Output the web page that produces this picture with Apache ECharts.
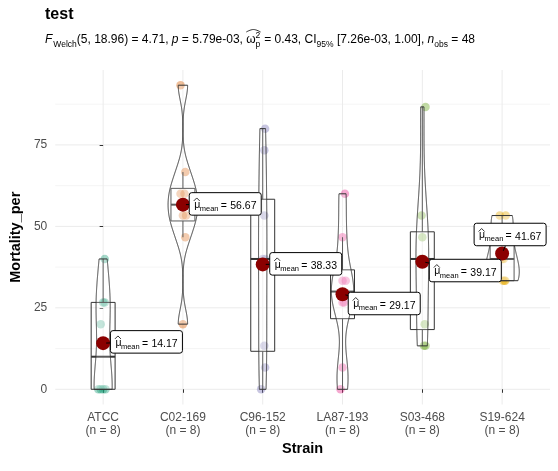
<!DOCTYPE html>
<html lang="en">
<head>
<meta charset="UTF-8">
<title>test</title>
<script src="https://cdn.jsdelivr.net/npm/echarts@6/dist/echarts.min.js"></script>
<style>html,body{margin:0;padding:0;background:#fff;}</style>
</head>
<body>
<div id="box" style="width:558px;height:471px;"></div>
<script>
// values (Mortality_per, 8 per strain)
var strains = ['ATCC', 'C02-169', 'C96-152', 'LA87-193', 'S03-468', 'S19-624'];
var atcc = [0, 0, 0, 0, 20, 26.67, 26.67, 40];
var c02 = [20, 46.67, 53.33, 53.33, 60, 60, 66.67, 93.33];
var c96 = [0, 6.67, 13.33, 40, 40, 53.33, 73.33, 80];
var la87 = [0, 6.67, 26.67, 26.67, 33.33, 33.33, 46.67, 60];
var s03 = [13.33, 13.33, 20, 40, 40, 46.67, 53.33, 86.67];
var s19 = [33.33, 33.33, 33.33, 40, 40, 46.67, 53.33, 53.33];
var groups = [atcc, c02, c96, la87, s03, s19];
var meanLabels = ['14.17', '56.67', '38.33', '29.17', '39.17', '41.67'];
var yTicks = [0, 25, 50, 75];
var yMinor = [12.5, 37.5, 62.5, 87.5];

// horizontal jitter of each point (category units), same order as the values
var jitter = [
    [-0.06, -0.03, 0.0, 0.03, -0.03, 0.02, 0.0, 0.02],
    [0.0, 0.03, 0.0, 0.04, -0.03, 0.02, 0.03, -0.03],
    [-0.02, 0.03, 0.02, 0.0, 0.03, 0.02, 0.02, 0.03],
    [-0.025, 0.0, 0.0, 0.02, 0.04, 0.0, 0.0, 0.03],
    [0.02, 0.04, 0.03, -0.02, 0.01, 0.0, -0.01, 0.04],
    [0.01, 0.03, 0.04, 0.0, 0.02, 0.0, -0.03, 0.045]
];
// label box offset from the mean point, px
var labelPos = [[7.3, -12.5], [6.3, -12], [7, -11.8], [5.7, -2], [7, -2.4], [-28, -30.3]];

var colors = ['#1B9E77', '#D95F02', '#7570B3', '#E7298A', '#66A61E', '#E6AB02'];
var FAM = '"Liberation Sans", Arial, sans-serif';
var VIOLIN_HALF = 0.215;
var BOX_HALF = 0.15;

function sorted(v) { return v.slice().sort(function (a, b) { return a - b; }); }
function quant(s, p) {
    var h = (s.length - 1) * p, lo = Math.floor(h), hi = Math.min(lo + 1, s.length - 1);
    return s[lo] + (h - lo) * (s[hi] - s[lo]);
}
function mean(v) { var t = 0; v.forEach(function (x) { t += x; }); return t / v.length; }
function sdev(v) {
    var m = mean(v), t = 0;
    v.forEach(function (x) { t += (x - m) * (x - m); });
    return Math.sqrt(t / (v.length - 1));
}

var means = groups.map(mean);
var boxStats = groups.map(function (v) {
    var s = sorted(v), q1 = quant(s, 0.25), q3 = quant(s, 0.75), iqr = q3 - q1;
    var inside = s.filter(function (x) { return x >= q1 - 1.5 * iqr && x <= q3 + 1.5 * iqr; });
    return {q1: q1, med: quant(s, 0.5), q3: q3, lo: inside[0], hi: inside[inside.length - 1]};
});
// gaussian kde, bw.nrd0, trimmed to data range
var dens = groups.map(function (v) {
    var s = sorted(v), n = v.length, iqr = quant(s, 0.75) - quant(s, 0.25);
    var bw = 0.9 * Math.min(sdev(v), iqr / 1.34) * Math.pow(n, -0.2);
    var a = s[0], b = s[n - 1], out = [];
    for (var k = 0; k < 512; k++) {
        var y = a + (b - a) * k / 511, d = 0;
        for (var j = 0; j < n; j++) { var z = (y - s[j]) / bw; d += Math.exp(-z * z / 2); }
        out.push([y, d / (n * bw * Math.sqrt(2 * Math.PI))]);
    }
    return out;
});
var dMax = Math.max.apply(null, dens.map(function (g) {
    return Math.max.apply(null, g.map(function (p) { return p[1]; }));
}));

var allVals = [].concat.apply([], groups);
var yLo = Math.min.apply(null, allVals), yHi = Math.max.apply(null, allVals);
var yPad = (yHi - yLo) * 0.05;
var xTicks = strains.map(function (s, i) { return i; });

// text helpers
var ctx = document.createElement('canvas').getContext('2d');
function textW(t, font) { ctx.font = font; return ctx.measureText(t).width; }
function txt(t, x, base, size, opts) {
    opts = opts || {};
    var font = (opts.italic ? 'italic ' : '') + (opts.bold ? 'bold ' : '') + size + 'px ' + FAM;
    return {type: 'text', x: x, y: base - 0.31 * size, z: 100,
        style: {text: t, font: font, fill: opts.fill || '#000', textVerticalAlign: 'middle', textAlign: 'left'}};
}

// title + subtitle
var graphics = [txt('test', 45, 20, 16, {bold: true})];
(function () {
    var S = 12, SS = 8.5, B = 43.5, x = 45;
    function put(t, kind) {
        var size = kind === 'sub' ? SS : S, base = kind === 'sub' ? B + 3.5 : B;
        var el = txt(t, x, base, size, {italic: kind === 'it'});
        graphics.push(el);
        x += textW(t, el.style.font);
    }
    put('F', 'it'); x += 1; put('Welch', 'sub');
    put('(5, 18.96) = 4.71, ', 'n');
    put('p', 'it'); put(' = 5.79e-03, ', 'n');
    var ox = x, ow = textW('ω', S + 'px ' + FAM);
    put('ω', 'n');
    graphics.push(txt('2', x, B - 5, SS));
    graphics.push(txt('p', x, B + 3.5, SS));
    graphics.push({type: 'polyline', z: 100, shape: {points: [[ox, B - 11.5], [ox + (ow + 5) / 2, B - 14], [ox + ow + 5, B - 11.5]], smooth: 0.4},
        style: {stroke: '#000', lineWidth: 0.8, fill: null}});
    x += textW('2', SS + 'px ' + FAM) + 0.5;
    put(' = 0.43, CI', 'n'); put('95%', 'sub');
    put(' [7.26e-03, 1.00], ', 'n');
    put('n', 'it'); put('obs', 'sub'); put(' = 48', 'n');
})();

function renderGrid(params, api) {
    var cs = params.coordSys, kind = api.value(2);
    var st = {stroke: '#EBEBEB', lineWidth: kind === 0 ? 0.5 : 1};
    if (kind === 2) {
        var px = api.coord([api.value(0), 0])[0];
        return {type: 'line', shape: {x1: px, y1: cs.y, x2: px, y2: cs.y + cs.height}, style: st};
    }
    var py = api.coord([0, api.value(1)])[1];
    return {type: 'line', shape: {x1: cs.x, y1: py, x2: cs.x + cs.width, y2: py}, style: st};
}

function renderViolin(params, api) {
    var i = params.dataIndex, left = [], right = [];
    dens[i].forEach(function (p) {
        var w = p[1] / dMax * VIOLIN_HALF;
        left.push(api.coord([i - w, p[0]]));
        right.push(api.coord([i + w, p[0]]));
    });
    return {type: 'polygon', shape: {points: left.concat(right.reverse())},
        style: {fill: 'rgba(255,255,255,0.2)', stroke: '#333', lineWidth: 1}};
}

function renderBox(params, api) {
    var i = params.dataIndex, b = boxStats[i];
    var tl = api.coord([i - BOX_HALF, b.q3]), br = api.coord([i + BOX_HALF, b.q1]);
    var m1 = api.coord([i - BOX_HALF, b.med]), m2 = api.coord([i + BOX_HALF, b.med]);
    var hi = api.coord([i, b.hi]), q3 = api.coord([i, b.q3]), q1 = api.coord([i, b.q1]), lo = api.coord([i, b.lo]);
    var st = {stroke: '#333', lineWidth: 1};
    return {type: 'group', children: [
        {type: 'line', shape: {x1: hi[0], y1: hi[1], x2: q3[0], y2: q3[1]}, style: st},
        {type: 'line', shape: {x1: q1[0], y1: q1[1], x2: lo[0], y2: lo[1]}, style: st},
        {type: 'rect', shape: {x: tl[0], y: tl[1], width: br[0] - tl[0], height: br[1] - tl[1]},
            style: {fill: 'rgba(255,255,255,0.2)', stroke: '#333', lineWidth: 1}},
        {type: 'line', shape: {x1: m1[0], y1: m1[1], x2: m2[0], y2: m2[1]}, style: {stroke: '#333', lineWidth: 2}}
    ]};
}

function renderLabel(params, api) {
    var i = params.dataIndex, c = api.coord([i, means[i]]);
    var W = 72, H = 22.5, L = c[0] + labelPos[i][0], T = c[1] + labelPos[i][1];
    var lcx = L + W / 2, lcy = T + H / 2, dx = lcx - c[0], dy = lcy - c[1];
    var s = Math.min(dx ? (W / 2) / Math.abs(dx) : 1e9, dy ? (H / 2) / Math.abs(dy) : 1e9);
    var ex = lcx - dx * s, ey = lcy - dy * s, len = Math.sqrt(dx * dx + dy * dy);
    var sx = c[0] + dx / len * 3, sy = c[1] + dy / len * 3;
    var kids = [
        {type: 'line', shape: {x1: sx, y1: sy, x2: ex, y2: ey}, style: {stroke: '#000', lineWidth: 1}},
        {type: 'rect', shape: {x: L, y: T, width: W, height: H, r: 2.5}, style: {fill: '#fff', stroke: '#000', lineWidth: 1}},
        {type: 'polyline', shape: {points: [[L + 4.5, T + 8.3], [L + 7.5, T + 5.3], [L + 10.5, T + 8.3]]},
            style: {stroke: '#000', lineWidth: 0.8, fill: null}}
    ];
    [txt('μ', L + 5, T + 15.5, 10.5), txt('mean', L + 10.5, T + 18.5, 7.5),
        txt('=', L + 31.5, T + 16.5, 10.5), txt(meanLabels[i], L + 41, T + 16.8, 10.5)].forEach(function (e) {
        kids.push({type: 'text', x: e.x, y: e.y, style: e.style});
    });
    return {type: 'group', children: kids};
}

var axisText = {color: '#4D4D4D', fontSize: 12, fontFamily: FAM};
var nameText = {fontWeight: 'bold', fontSize: 14.5, color: '#000', fontFamily: FAM};

var series = [{
    type: 'custom', z: 0, silent: true, renderItem: renderGrid, encode: {x: 0, y: 1},
    data: yTicks.map(function (v) { return [0, v, 1]; })
        .concat(yMinor.map(function (v) { return [0, v, 0]; }))
        .concat(xTicks.map(function (i) { return [i, 0, 2]; }))
}];
groups.forEach(function (v, i) {
    series.push({
        type: 'scatter', z: 2, silent: true, symbolSize: 8.5,
        itemStyle: {color: colors[i], opacity: 0.4},
        data: v.map(function (y, k) { return [i + jitter[i][k], y]; })
    });
});
var centers = means.map(function (m, i) { return [i, m]; });
series.push({type: 'custom', z: 3, silent: true, renderItem: renderBox, data: centers, encode: {x: 0, y: 1}});
series.push({type: 'custom', z: 4, silent: true, renderItem: renderViolin, data: centers, encode: {x: 0, y: 1}});
series.push({type: 'scatter', z: 5, silent: true, symbolSize: 14, itemStyle: {color: '#8B0000', opacity: 1}, data: centers});
series.push({type: 'custom', z: 6, silent: true, clip: false, renderItem: renderLabel, data: centers, encode: {x: 0, y: 1}});

var chart = echarts.init(document.getElementById('box'));
chart.setOption({
    animation: false,
    backgroundColor: '#fff',
    graphic: graphics,
    grid: {left: 46, right: 8, top: 70, bottom: 66.5},
    xAxis: {
        type: 'value', min: -0.6, max: strains.length - 0.4,
        axisLine: {show: false}, splitLine: {show: false},
        axisTick: {show: true, customValues: xTicks, length: 3.5, lineStyle: {color: '#333'}},
        axisLabel: Object.assign({
            customValues: xTicks, margin: 6.5, lineHeight: 13,
            formatter: function (v) { return strains[v] + '\n(n = ' + groups[v].length + ')'; }
        }, axisText),
        name: 'Strain', nameLocation: 'middle', nameGap: 33, nameTextStyle: nameText
    },
    yAxis: {
        type: 'value', min: yLo - yPad, max: yHi + yPad,
        axisLine: {show: false}, splitLine: {show: false},
        axisTick: {show: true, customValues: yTicks, length: 3.5, lineStyle: {color: '#333'}},
        axisLabel: Object.assign({customValues: yTicks, margin: 8}, axisText),
        name: 'Mortality_per', nameLocation: 'middle', nameGap: 24, nameTextStyle: nameText
    },
    series: series
});
</script>
</body>
</html>
